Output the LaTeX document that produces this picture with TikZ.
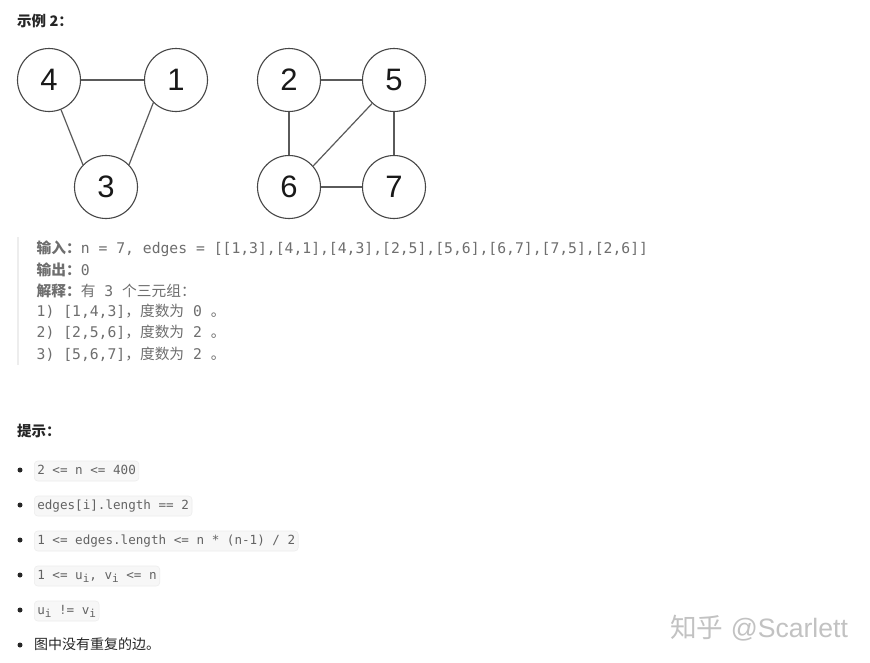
\documentclass[tikz,border=0pt]{standalone}
\usepackage{fontspec}
\setmainfont{Liberation Sans}
\setmonofont{DejaVu Sans Mono}
\newfontfamily\cjk{Noto Sans CJK SC}
\usepackage{xcolor}
\usetikzlibrary{positioning}
\definecolor{txtdark}{HTML}{262626}
\definecolor{codegray}{HTML}{6E6E6E}
\definecolor{edgegray}{HTML}{5A5A5A}
\newcommand{\subi}{\raisebox{-2.5pt}{\fontsize{11}{11}\selectfont i}}
\tikzset{
    vertex/.style={draw=black!72, circle, fill=white, minimum size=63pt, inner sep=0pt, line width=1.1pt, font=\fontsize{31}{31}\selectfont, text=black!90},
    edge/.style={draw=edgegray, line width=1.2pt},
    heading/.style={anchor=west, inner sep=0pt, text=txtdark, font=\cjk\bfseries\fontsize{14.5}{15}\selectfont},
    quoteline/.style={anchor=west, inner sep=0pt, text=codegray, font=\ttfamily\fontsize{14.72}{15}\selectfont},
    chip/.style={anchor=west, rounded corners=3.5pt, fill=black!3, draw=black!7, line width=0.6pt, inner xsep=3pt, inner ysep=0pt, minimum height=20pt, text height=9.5pt, text depth=2.5pt, text=codegray!90!black, font=\ttfamily\fontsize{12.6}{14}\selectfont},
    dotitem/.style={circle, fill=txtdark, inner sep=0pt, minimum size=5pt},
}
\begin{document}
\begin{tikzpicture}[x=1pt, y=-1pt]
    \useasboundingbox[fill=white] (0,0) rectangle (870,662);

    \node[heading] (title) at (17,21) {示例 2：};

    % left graph
    \node[vertex] (v4) at (49,80) {4};
    \node[vertex] (v1) at (176,80) {1};
    \node[vertex] (v3) at (106,187) {3};
    \draw[edge] (v4) -- (v1);
    \draw[edge] (v4.292) -- (v3.136);
    \draw[edge] (v1.225) -- (v3.44);

    % right graph
    \node[vertex] (v2) at (289,80) {2};
    \node[vertex] (v5) at (394,80) {5};
    \node[vertex] (v6) at (289,187) {6};
    \node[vertex] (v7) at (394,187) {7};
    \draw[edge] (v2) -- (v5);
    \draw[edge] (v2) -- (v6);
    \draw[edge] (v5.227) -- (v6.41);
    \draw[edge] (v5) -- (v7);
    \draw[edge] (v6) -- (v7);

    % quote block
    \fill[black!7] (17,237) rectangle (19,365);
    \node[quoteline] (input) at (36.5,248.5) {{\cjk\bfseries 输入：}n = 7, edges = [[1,3],[4,1],[4,3],[2,5],[5,6],[6,7],[7,5],[2,6]]};
    \node[quoteline] (output) at (36.5,269.5) {{\cjk\bfseries 输出：}0};
    \node[quoteline] (explain) at (36.5,290.5) {{\cjk\bfseries 解释：}{\cjk 有} 3 {\cjk 个三元组：}};
    \node[quoteline] (triple1) at (36.5,311.5) {1) [1,4,3]{\cjk ，度数为} 0 {\cjk 。}};
    \node[quoteline] (triple2) at (36.5,332.5) {2) [2,5,6]{\cjk ，度数为} 2 {\cjk 。}};
    \node[quoteline] (triple3) at (36.5,354) {3) [5,6,7]{\cjk ，度数为} 2 {\cjk 。}};

    % hints
    \node[heading] (hint) at (17,431) {提示：};
    \node[dotitem] (b1) at (20,470) {};
    \node[dotitem] (b2) at (20,505) {};
    \node[dotitem] (b3) at (20,540) {};
    \node[dotitem] (b4) at (20,575) {};
    \node[dotitem] (b5) at (20,610) {};
    \node[dotitem] (b6) at (20,645) {};
    \node[chip] (c1) at (34,471) {2 <= n <= 400};
    \node[chip] (c2) at (34,506) {edges[i].length == 2};
    \node[chip] (c3) at (34,541) {1 <= edges.length <= n * (n-1) / 2};
    \node[chip] (c4) at (34,576) {1 <= u\subi, v\subi{} <= n};
    \node[chip] (c5) at (34,611) {u\subi{} != v\subi};
    \node[anchor=west, inner sep=0pt, text=txtdark, font=\cjk\fontsize{14}{14}\selectfont] (c6) at (34,644) {图中没有重复的边。};

    % watermark
    \node[anchor=west, inner sep=0pt, text=black!24, font=\fontsize{26.6}{27}\selectfont] (mark) at (670,628) {{\cjk 知乎} @Scarlett};
\end{tikzpicture}
\end{document}
